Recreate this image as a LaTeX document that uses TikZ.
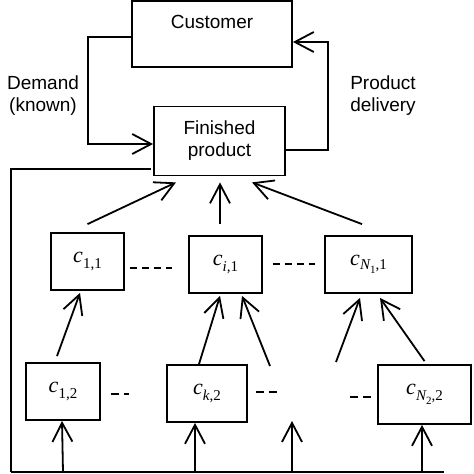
\documentclass[tikz,border=0pt]{standalone}
\usepackage{fontspec}
\setmainfont{Liberation Sans}
\newfontfamily\tms{Liberation Serif}
\usetikzlibrary{arrows.meta,calc}
\newcommand\cvar[2][6pt]{{\tms\fontsize{22}{22}\selectfont\itshape c}\raisebox{-#1}{\tms\fontsize{15}{15}\selectfont #2}}
\newcommand\nsub[1]{{\itshape N}\raisebox{-3.5pt}{\fontsize{11}{11}\selectfont #1}}
\begin{document}
\begin{tikzpicture}[x=1pt,y=-1pt,
  box/.style={draw,line width=1.8pt,inner sep=0pt},
  txt/.style={font=\fontsize{19}{22}\selectfont,align=center},
  ln/.style={line width=1.8pt},
  arr/.style={line width=1.8pt,-{Straight Barb[length=19pt,width=20pt,line width=1.8pt]}},
  dsh/.style={line width=1.8pt,dash pattern=on 7pt off 5pt},
  dshb/.style={line width=1.8pt,dash pattern=on 8pt off 5pt}]
\useasboundingbox (0,0) rectangle (474,474);
% top boxes
\node[box,minimum width=160pt,minimum height=66pt] (cust) at (212,34) {};
\node[txt] (custtxt) at (212,22) {Customer};
\node[box,txt,minimum width=131pt,minimum height=69pt] (fp) at (219.5,141) {Finished\\product};
\node[txt] (dem) at (43,96) {Demand\\(known)};
\node[txt] (del) at (383,96) {Product\\delivery};
% row 1
\node[box,minimum width=73pt,minimum height=57pt] (c11) at (87.5,261.5) {\cvar{1,1}};
\node[box,minimum width=73pt,minimum height=57pt] (ci1) at (225.5,264.5) {\cvar{{\itshape i},1}};
\node[box,minimum width=87pt,minimum height=57pt] (cn1) at (368.5,264.5) {\cvar[4pt]{\nsub{1},1}};
% row 2
\node[box,minimum width=74pt,minimum height=57pt] (c12) at (63,391.5) {\cvar{1,2}};
\node[box,minimum width=80pt,minimum height=57pt] (ck2) at (207,393.5) {\cvar{{\itshape k},2}};
\node[box,minimum width=93pt,minimum height=59pt] (cn2) at (424.5,394.5) {\cvar{\nsub{2},2}};
% coordinates
\coordinate (fb) at (151,169);
\coordinate (bl) at (11,472);
\coordinate (br) at (444,472);
\coordinate (free1) at (270,366);
\coordinate (free2) at (336,362);
\coordinate (free3) at (292,421);
% demand / delivery loops
\draw[arr] ([yshift=-3pt]cust.west) -- ++(-43,0) |- ([yshift=-3pt]fp.west);
\draw[arr] ([yshift=-9pt]fp.east) -- ++(42,0) |- ([yshift=-8pt]cust.east);
% feedback and bottom line
\draw[ln] (fb) -| (bl);
\draw[line width=2.6pt] (bl) -- (br);
% into finished product
\draw[arr] ([yshift=8pt]c11.north) -- ([shift={(-43.5,6)}]fp.south);
\draw[arr] ([shift={(-5.5,-11)}]ci1.north) -- ([shift={(0.5,6)}]fp.south);
\draw[arr] ([shift={(-6.5,-11)}]cn1.north) -- ([shift={(32.5,6)}]fp.south);
% row 2 to row 1
\draw[arr] ([shift={(-6,-6)}]c12.north) -- ([shift={(-7.5,2)}]c11.south);
\draw[arr] ([xshift=-8pt]ck2.north) -- ([shift={(-5.5,2)}]ci1.south);
\draw[arr] (free1) -- ([shift={(16.5,2)}]ci1.south);
\draw[arr] (free2) -- ([shift={(-8.5,4)}]cn1.south);
\draw[arr] ([shift={(0,-3)}]cn2.north) -- ([shift={(11.5,4)}]cn1.south);
% bottom arrows
\draw[arr] (c12.south |- bl) -- ([xshift=-1pt]c12.south);
\draw[arr] ([xshift=-12pt]ck2.south |- bl) -- ([xshift=-12pt]ck2.south);
\draw[arr] (free3 |- bl) -- (free3);
\draw[arr] ([xshift=-2.5pt]cn2.south |- bl) -- ([xshift=-2.5pt]cn2.south);
% dashes
\draw[dsh] ([shift={(5,6.5)}]c11.east) -- ([shift={(-16,3.5)}]ci1.west);
\draw[dsh] ([shift={(10,-0.5)}]ci1.east) -- ([shift={(-9,-0.5)}]cn1.west);
\draw[dshb] ([shift={(10,2.5)}]c12.east) -- ([shift={(-37,0.5)}]ck2.west);
\draw[dshb] ([shift={(8,-1.5)}]ck2.east) -- ++(21,0);
\draw[dshb] ([shift={(-27,2.5)}]cn2.west) -- ([shift={(-6,2.5)}]cn2.west);
\end{tikzpicture}
\end{document}
